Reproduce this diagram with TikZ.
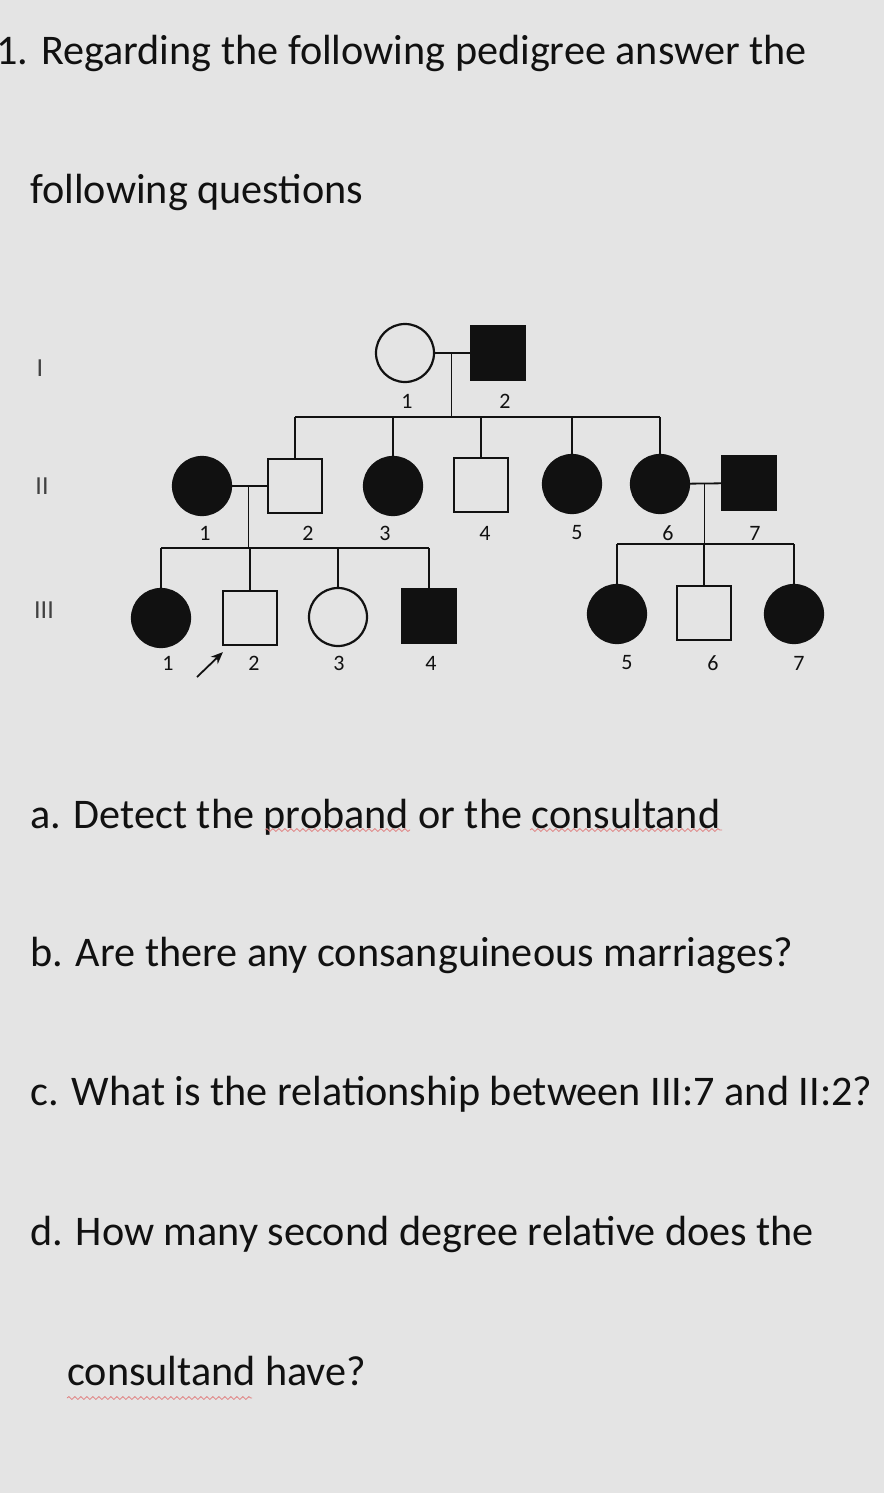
\documentclass[tikz,border=0pt]{standalone}
\usepackage{fontspec}
\setmainfont{Carlito}
\usetikzlibrary{calc}
\usetikzlibrary{arrows.meta}
\usetikzlibrary{decorations.pathmorphing}
\definecolor{bg}{HTML}{E4E4E4}
\definecolor{ink}{HTML}{111111}
\definecolor{squig}{HTML}{E08080}

\begin{document}
\begin{tikzpicture}[x=0.5pt,y=-0.5pt,
  female/.style={circle,draw=ink,line width=1.1pt,minimum size=29pt,inner sep=0pt},
  male/.style={rectangle,draw=ink,line width=1.1pt,minimum size=27pt,inner sep=0pt},
  aff/.style={fill=ink},
  num/.style={text=ink,font=\fontsize{11}{13}\selectfont},
  gen/.style={text=ink!80,font=\fontsize{13}{15}\selectfont},
  question/.style={anchor=base west,inner sep=0pt,text=ink,font=\fontsize{21.1}{26}\selectfont},
  line/.style={draw=ink,line width=0.9pt},
  squiggle/.style={draw=squig,line width=0.4pt,decorate,decoration={snake,amplitude=0.7pt,segment length=3pt}}]

  \fill[bg] (0,0) rectangle (884,1493);
  \useasboundingbox (0,0) rectangle (884,1493);

  \node[question] (q0) at (-4,65) {1. Regarding the following pedigree answer the};
  \node[question] (q1) at (30,203) {following questions};

  \node[gen] (g1) at (40,368) {I};
  \node[gen] (g2) at (42,486) {II};
  \node[gen] (g3) at (44,610) {III};

  % generation I
  \node[female] (i1) at (405,353) {};
  \node[male,aff] (i2) at (498,353) {};
  \node[num] (li1) at (407,401) {1};
  \node[num] (li2) at (505,401) {2};

  % generation II
  \node[female,aff] (ii1) at (202,486) {};
  \node[male] (ii2) at (295,486) {};
  \node[female,aff] (ii3) at (393,486) {};
  \node[male] (ii4) at (481,485) {};
  \node[female,aff] (ii5) at (572,484) {};
  \node[female,aff] (ii6) at (660,484) {};
  \node[male,aff] (ii7) at (749,483) {};
  \node[num] (lii1) at (205,533) {1};
  \node[num] (lii2) at (308,533) {2};
  \node[num] (lii3) at (385,533) {3};
  \node[num] (lii4) at (485,533) {4};
  \node[num] (lii5) at (577,533) {5};
  \node[num] (lii6) at (668,533) {6};
  \node[num] (lii7) at (755,533) {7};

  % generation III
  \node[female,aff] (iii1) at (161,618) {};
  \node[male] (iii2) at (250,618) {};
  \node[female] (iii3) at (338,617) {};
  \node[male,aff] (iii4) at (429,616) {};
  \node[female,aff] (iii5) at (617,614) {};
  \node[male] (iii6) at (704,613) {};
  \node[female,aff] (iii7) at (794,614) {};
  \node[num] (liii1) at (168,663) {1};
  \node[num] (liii2) at (254,663) {2};
  \node[num] (liii3) at (339,663) {3};
  \node[num] (liii4) at (431,663) {4};
  \node[num] (liii5) at (627,663) {5};
  \node[num] (liii6) at (713,663) {6};
  \node[num] (liii7) at (799,663) {7};

  % couples and sibships
  \coordinate (m1) at ($(i1)!0.5!(i2)$);
  \coordinate (s1) at (452,417);
  \draw[line] (i1) -- (i2);
  \draw[line] (m1) -- (m1 |- s1);
  \draw[line] (ii2.north |- s1) -- (ii6.north |- s1);
  \foreach \k in {ii2,ii3,ii4,ii5,ii6}
    \draw[line] (\k.north) -- (\k.north |- s1);

  \coordinate (m2) at ($(ii1)!0.5!(ii2)$);
  \coordinate (s2) at (248,548);
  \draw[line] (ii1) -- (ii2);
  \draw[line] (m2) -- (m2 |- s2);
  \draw[line] (iii1.north |- s2) -- (iii4.north |- s2);
  \foreach \k in {iii1,iii2,iii3,iii4}
    \draw[line] (\k.north) -- (\k.north |- s2);

  \coordinate (m3) at ($(ii6)!0.5!(ii7)$);
  \coordinate (s3) at (704,544);
  \draw[line] (ii6) -- (ii7);
  \draw[line] (m3) -- (m3 |- s3);
  \draw[line] (iii5.north |- s3) -- (iii7.north |- s3);
  \foreach \k in {iii5,iii6,iii7}
    \draw[line] (\k.north) -- (\k.north |- s3);

  % consultand arrow
  \coordinate (arr) at (197,677);
  \draw[line,-{Stealth[length=6pt,width=5pt]}] (arr) -- ([xshift=0.5pt,yshift=-3pt]iii2.south west);

  \node[question] (qa) at (30,828) {a. Detect the proband or the consultand};
  \node[question] (qb) at (30,966) {b. Are there any consanguineous marriages?};
  \node[question] (qc) at (30,1105) {c. What is the relationship between III:7 and II:2?};
  \node[question] (qd) at (30,1245) {d. How many second degree relative does the};
  \node[question] (qe) at (67,1385) {consultand have?};

  \draw[squiggle] (265,830) -- (410,830);
  \draw[squiggle] (530,830) -- (722,830);
  \draw[squiggle] (67,1398) -- (252,1398);
\end{tikzpicture}
\end{document}
